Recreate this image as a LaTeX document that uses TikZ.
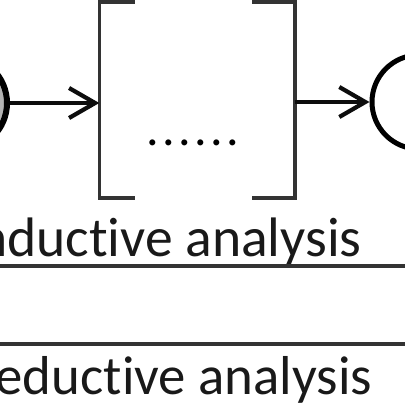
\documentclass[tikz,border=0pt]{standalone}
\usepackage{fontspec}
\setmainfont{Carlito}[Ligatures={NoCommon}]
\usetikzlibrary{arrows.meta}
\begin{document}
\begin{tikzpicture}[x=1pt,y=-1pt,
  bracketline/.style={line width=3.6pt, draw=black!80},
  flow/.style={line width=4.2pt, draw=black!95, -{Straight Barb[length=26pt,width=30pt,line width=4.2pt]}},
  rulerline/.style={line width=4pt, draw=black!80},
  caption/.style={inner sep=0pt, anchor=base west, text=black!90},
  event/.style={circle, minimum size=94pt, inner sep=0pt}
]
\useasboundingbox (0,0) rectangle (405,405);
\clip (0,0) rectangle (405,405);
% events
\node[event, draw=black, line width=6pt, fill=black!30] (lc) at (-40,103) {};
\node[event, draw=black, line width=5pt, fill=white] (rc) at (419,102) {};
% task (bracketed)
\node[minimum width=195pt, minimum height=196pt, inner sep=0pt] (task) at (197,100) {};
\draw[bracketline] ([xshift=35.5pt]task.north west) -- (task.north west) -- (task.south west) -- ([xshift=35.5pt]task.south west);
\draw[bracketline] ([xshift=-42.5pt]task.north east) -- (task.north east) -- (task.south east) -- ([xshift=-42.5pt]task.south east);
\node[inner sep=0pt, anchor=base, text=black] (dots) at (192.7,145)
  {\fontsize{50}{50}\selectfont .\kern3.4pt.\kern3.4pt.\kern3.4pt.\kern3.4pt.\kern3.4pt.};
% flows
\draw[flow] (lc.east) -- (lc.east -| task.west);
\draw[flow] (task.east |- rc.west) -- (rc.west);
% captions and rules
\node[caption, font=\fontsize{55.6}{60}\selectfont] (ind) at (-22,256) {nductive analysis};
\draw[rulerline] (0,265.5) -- (405,265.5);
\draw[rulerline] (0,344) -- (405,344);
\node[caption, font=\fontsize{54.8}{60}\selectfont] (ded) at (-4.5,394) {eductive analysis};
\end{tikzpicture}
\end{document}
